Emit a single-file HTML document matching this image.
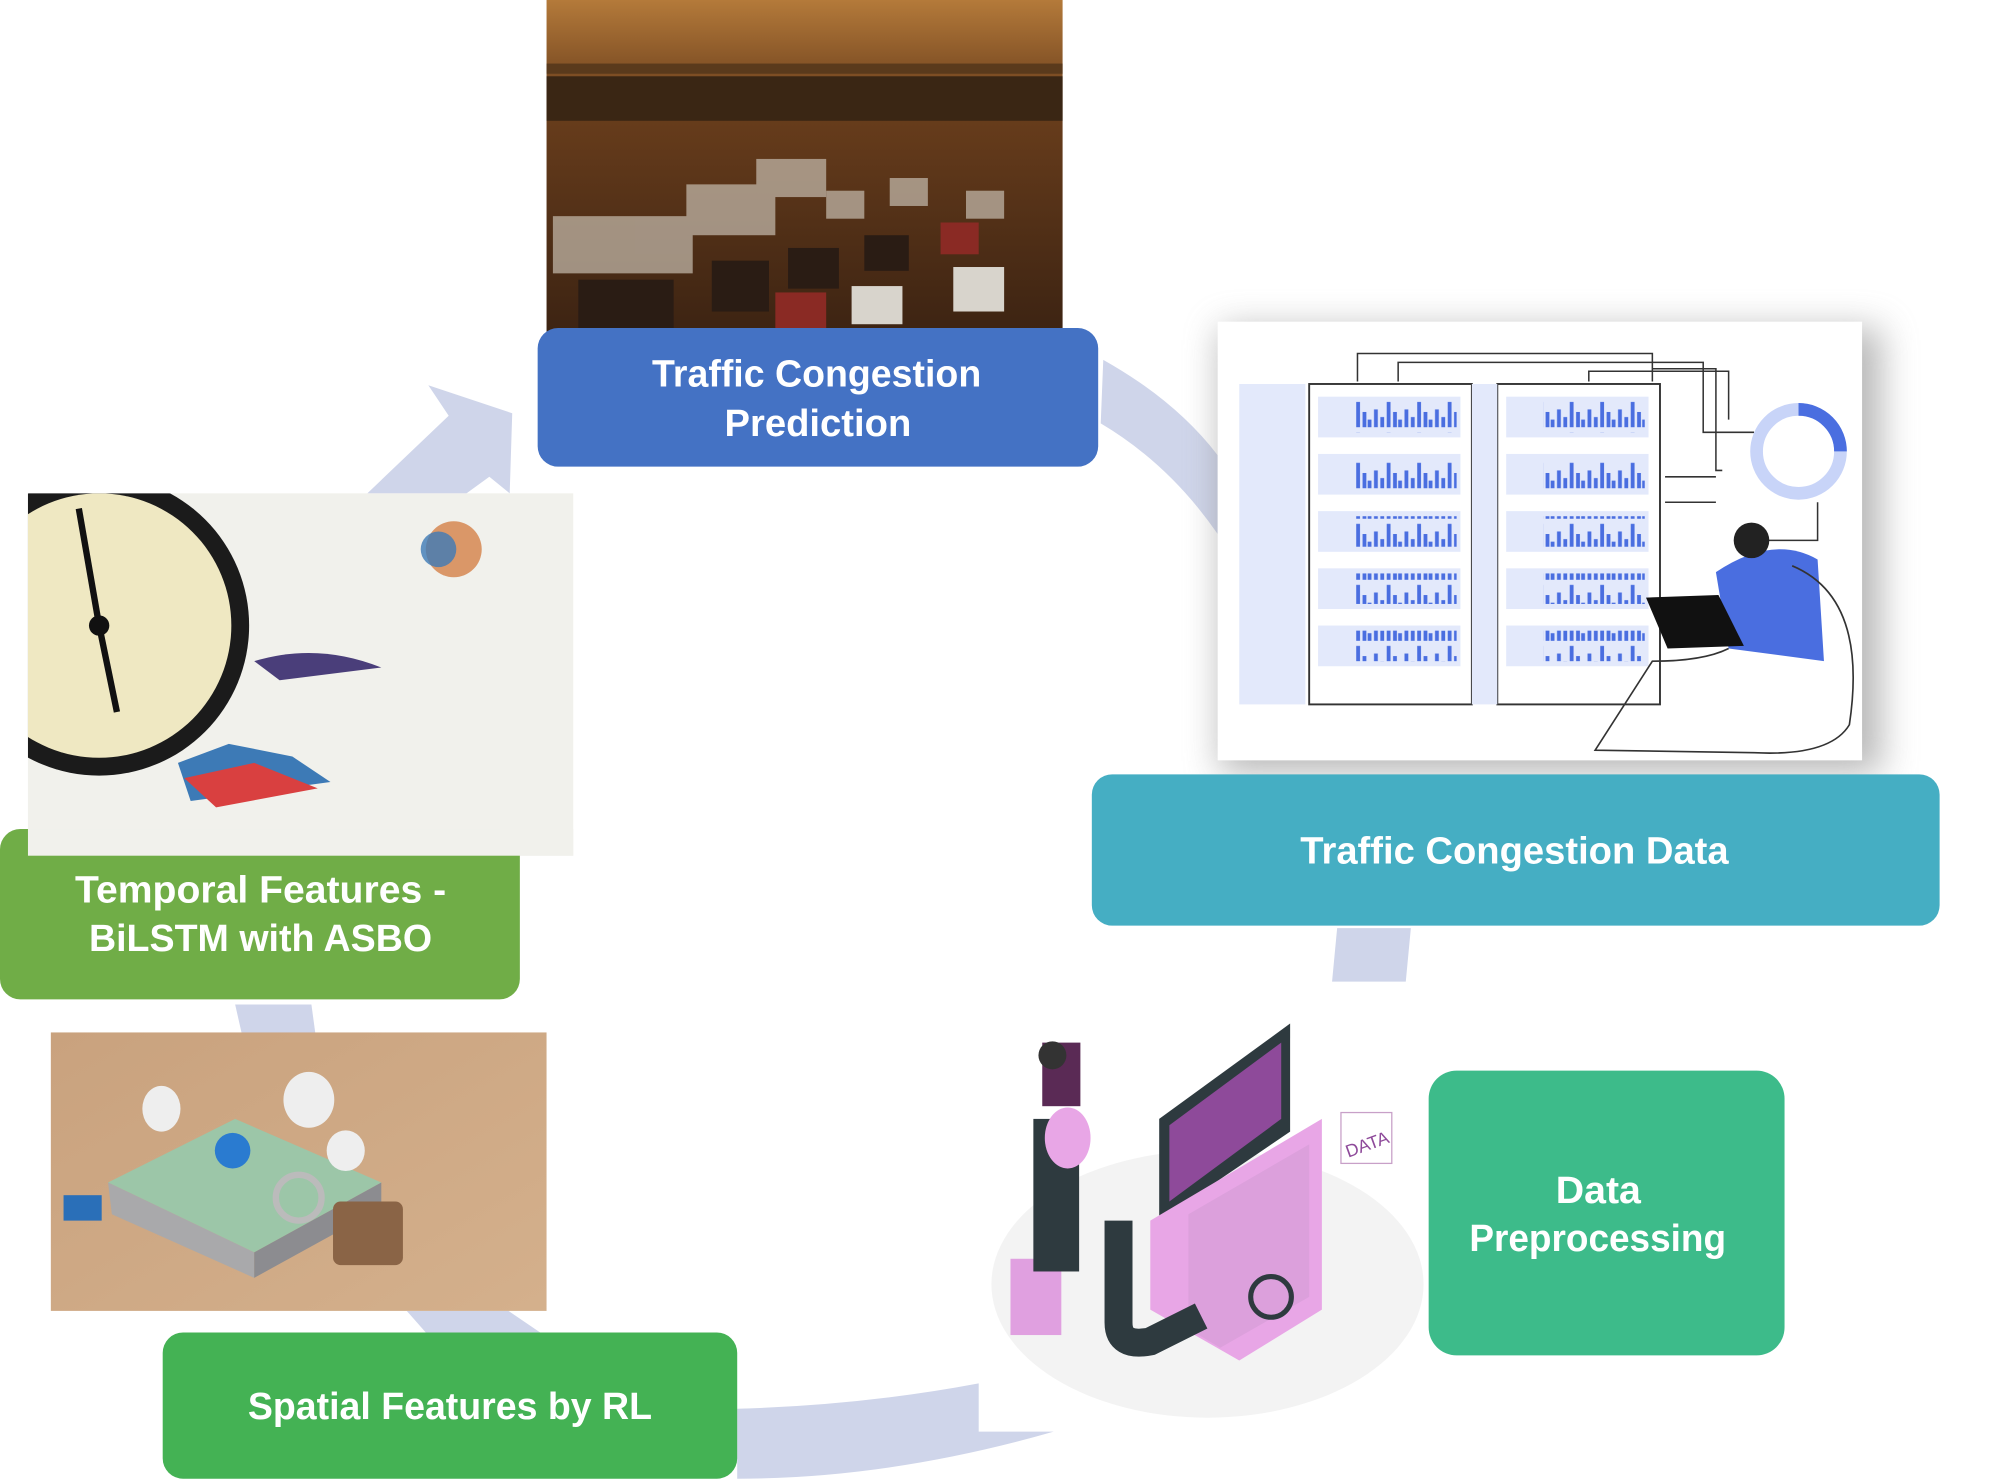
<!DOCTYPE html>
<html><head><meta charset="utf-8"><style>html,body{margin:0;padding:0;background:#fff;width:1993px;height:1480px;overflow:hidden}</style></head>
<body>
<svg width="1993" height="1480" viewBox="0 0 1568 1164" preserveAspectRatio="none" xmlns="http://www.w3.org/2000/svg">
<defs>
<linearGradient id="sky" x1="0" y1="0" x2="0" y2="1"><stop offset="0" stop-color="#b47a3a"/><stop offset="0.3" stop-color="#6a3e1c"/><stop offset="1" stop-color="#3a2212"/></linearGradient>
<linearGradient id="tan" x1="0" y1="0" x2="1" y2="1"><stop offset="0" stop-color="#c9a27e"/><stop offset="1" stop-color="#d4b08c"/></linearGradient>
<filter id="sh" x="-20%" y="-20%" width="140%" height="140%"><feGaussianBlur stdDeviation="14"/></filter>
<clipPath id="tc"><rect x="22" y="388" width="429" height="285"/></clipPath>
<pattern id="bars" x="0" y="0" width="24" height="24" patternUnits="userSpaceOnUse">
<rect x="1" y="10" width="3" height="14" fill="#4a6ee0"/><rect x="6" y="16" width="3" height="8" fill="#4a6ee0"/><rect x="11" y="4" width="3" height="20" fill="#4a6ee0"/><rect x="16" y="12" width="3" height="12" fill="#4a6ee0"/><rect x="20" y="18" width="3" height="6" fill="#4a6ee0"/>
</pattern>
</defs>
<g fill="#cfd5ea">
<polygon points="337,303 403,325 401,388 385,375 367,388 289,388 353,327"/>
<path d="M868,283 Q925,315 958,358 L958,420 Q920,365 866,333 Z"/>
<polygon points="1052,730 1110,730 1106,772 1048,772"/>
<polygon points="185,790 245,790 248,812 190,812"/>
<polygon points="320,1031 400,1031 425,1048 335,1048"/>
<path d="M580,1108 Q680,1105 770,1088 L770,1126 L829,1126 Q700,1163 580,1163 Z"/>
</g>
<!-- top photo -->
<rect x="430" y="0" width="406" height="270" fill="url(#sky)"/>
<rect x="430" y="60" width="406" height="35" fill="#3a2614"/>
<rect x="430" y="50" width="406" height="8" fill="#5a3a1c"/>
<g fill="#bfb4a6" opacity="0.75">
<rect x="435" y="170" width="110" height="45"/><rect x="540" y="145" width="70" height="40"/><rect x="595" y="125" width="55" height="30"/>
<rect x="700" y="140" width="30" height="22"/><rect x="650" y="150" width="30" height="22"/><rect x="760" y="150" width="30" height="22"/>
</g>
<g fill="#2a1c14">
<rect x="455" y="220" width="75" height="45"/><rect x="560" y="205" width="45" height="40"/><rect x="620" y="195" width="40" height="32"/><rect x="680" y="185" width="35" height="28"/>
</g>
<g fill="#8a2a24"><rect x="610" y="230" width="40" height="30"/><rect x="740" y="175" width="30" height="25"/></g>
<g fill="#d8d4cc"><rect x="750" y="210" width="40" height="35"/><rect x="670" y="225" width="40" height="30"/></g>
<!-- blue box -->
<rect x="423" y="258" width="441" height="109" rx="16" fill="#4472c4"/>
<!-- right image -->
<rect x="960" y="258" width="520" height="350" fill="#888" filter="url(#sh)" opacity="0.6"/>
<rect x="958" y="253" width="507" height="345" fill="#fff"/>
<rect x="975" y="302" width="52" height="252" fill="#e3e9fb"/>
<rect x="1030" y="302" width="128" height="252" fill="#fff" stroke="#333" stroke-width="1.5"/>
<rect x="1178" y="302" width="128" height="252" fill="#fff" stroke="#333" stroke-width="1.5"/>
<rect x="1158" y="302" width="20" height="252" fill="#e3e9fb"/>
<g fill="#e3e9fb">
<rect x="1037" y="312" width="112" height="32"/><rect x="1037" y="357" width="112" height="32"/><rect x="1037" y="402" width="112" height="32"/><rect x="1037" y="447" width="112" height="32"/><rect x="1037" y="492" width="112" height="32"/>
<rect x="1185" y="312" width="112" height="32"/><rect x="1185" y="357" width="112" height="32"/><rect x="1185" y="402" width="112" height="32"/><rect x="1185" y="447" width="112" height="32"/><rect x="1185" y="492" width="112" height="32"/>
</g>
<g fill="url(#bars)">
<rect x="1066" y="316" width="80" height="24"/><rect x="1066" y="361" width="80" height="24"/><rect x="1066" y="406" width="80" height="24"/><rect x="1066" y="451" width="80" height="24"/><rect x="1066" y="496" width="80" height="24"/>
<rect x="1214" y="316" width="80" height="24"/><rect x="1214" y="361" width="80" height="24"/><rect x="1214" y="406" width="80" height="24"/><rect x="1214" y="451" width="80" height="24"/><rect x="1214" y="496" width="80" height="24"/>
</g>
<g fill="none" stroke="#333" stroke-width="1.2">
<path d="M1068,300 V278 H1300 V300 M1100,300 V285 H1340 V340 H1380 M1250,300 V292 H1360 V330 M1300,290 H1350 V370 H1355 M1310,375 H1350 M1310,395 H1350 M1430,395 V425 H1380"/>
</g>
<circle cx="1415" cy="355" r="33" fill="none" stroke="#c8d4f8" stroke-width="10"/>
<path d="M1415,322 A33,33 0 0 1 1448,355" fill="none" stroke="#4a6ee0" stroke-width="10"/>
<path d="M1350,450 Q1395,420 1430,440 L1435,520 L1360,510 Z" fill="#4a6ee0"/>
<circle cx="1378" cy="425" r="14" fill="#222"/>
<polygon points="1295,470 1352,468 1372,508 1312,510" fill="#111"/>
<path d="M1410,445 Q1470,470 1455,570 Q1440,595 1380,592 L1255,590 L1300,520 Q1340,520 1360,510" fill="none" stroke="#333" stroke-width="1.3"/>
<!-- teal box -->
<rect x="859" y="609" width="667" height="119" rx="16" fill="#45aec3"/>
<!-- temporal image -->
<rect x="22" y="388" width="429" height="285" fill="#f1f1ec"/>
<g clip-path="url(#tc)">
<circle cx="78" cy="492" r="118" fill="#1b1b1b"/>
<circle cx="78" cy="492" r="104" fill="#efe8c2"/>
<line x1="78" y1="492" x2="62" y2="400" stroke="#111" stroke-width="5"/>
<line x1="78" y1="492" x2="92" y2="560" stroke="#111" stroke-width="5"/>
<circle cx="78" cy="492" r="8" fill="#111"/>
<path d="M140,600 L180,585 L230,595 L260,615 L150,630 Z" fill="#3d7ab6"/>
<path d="M145,612 L200,600 L250,620 L170,635 Z" fill="#d94040"/>
<path d="M200,520 Q250,505 300,525 L220,535 Z" fill="#4a3e7a"/>
<circle cx="357" cy="432" r="22" fill="#d07030" opacity="0.7"/>
<circle cx="345" cy="432" r="14" fill="#3d7ab6" opacity="0.8"/>
</g>
<!-- temporal box -->
<rect x="0" y="652" width="409" height="134" rx="16" fill="#70ad47"/>
<rect x="22" y="652" width="429" height="21" fill="#f1f1ec"/>
<!-- spatial image -->
<rect x="40" y="812" width="390" height="219" fill="url(#tan)"/>
<polygon points="85,930 185,880 300,930 200,985" fill="#9cc6a8"/>
<polygon points="85,930 200,985 200,1005 88,955" fill="#a9a9ab"/>
<polygon points="200,985 300,930 300,950 200,1005" fill="#8c8c90"/>
<circle cx="183" cy="905" r="14" fill="#2a7bd0"/>
<circle cx="235" cy="942" r="18" fill="none" stroke="#bbb" stroke-width="5"/>
<rect x="262" y="945" width="55" height="50" rx="6" fill="#8a6446"/>
<ellipse cx="127" cy="872" rx="15" ry="18" fill="#eee"/><ellipse cx="243" cy="865" rx="20" ry="22" fill="#eee"/><ellipse cx="272" cy="905" rx="15" ry="16" fill="#eee"/>
<rect x="50" y="940" width="30" height="20" fill="#2a6fb8"/>
<!-- spatial box -->
<rect x="128" y="1048" width="452" height="115" rx="16" fill="#44b254"/>
<!-- preprocessing -->
<ellipse cx="950" cy="1010" rx="170" ry="105" fill="#f3f3f3"/>
<polygon points="912,880 1015,805 1015,890 912,960" fill="#2e3a3f"/>
<polygon points="920,885 1008,820 1008,880 920,945" fill="#8e4a9a"/>
<polygon points="905,960 1040,880 1040,1030 975,1070 905,1030" fill="#e8a6e6"/>
<polygon points="935,955 1030,900 1030,1020 960,1060 935,1045" fill="#dca0dc"/>
<circle cx="1000" cy="1020" r="16" fill="none" stroke="#2e3a3f" stroke-width="4"/>
<path d="M880,960 L880,1040 Q880,1060 905,1055 L945,1035" fill="none" stroke="#2e3a3f" stroke-width="22"/>
<rect x="795" y="990" width="40" height="60" fill="#e0a0e0"/>
<rect x="820" y="820" width="30" height="50" fill="#5a2a55"/>
<circle cx="828" cy="830" r="11" fill="#333"/>
<rect x="813" y="880" width="36" height="120" fill="#2e3a3f"/>
<ellipse cx="840" cy="895" rx="18" ry="24" fill="#e8a6e6"/>
<rect x="1055" y="875" width="40" height="40" fill="#fff" stroke="#c8a0c8"/>
<text x="1058" y="905" font-family="Liberation Sans" font-size="14" fill="#8e4a9a" transform="rotate(-20 1075 900)">DATA</text>
<!-- preprocessing box -->
<rect x="1124" y="842" width="280" height="224" rx="22" fill="#3dbb8a"/>
<g font-family="'Liberation Sans Narrow','Liberation Sans',sans-serif" font-weight="bold" font-size="30" fill="#fff">
<text x="513" y="304" textLength="259" lengthAdjust="spacingAndGlyphs">Traffic Congestion</text>
<text x="570" y="343" textLength="147" lengthAdjust="spacingAndGlyphs">Prediction</text>
<text x="1023" y="679" textLength="337" lengthAdjust="spacingAndGlyphs">Traffic Congestion Data</text>
<text x="1224" y="946" textLength="67" lengthAdjust="spacingAndGlyphs">Data</text>
<text x="1156" y="984" textLength="202" lengthAdjust="spacingAndGlyphs">Preprocessing</text>
<text x="59" y="710" textLength="292" lengthAdjust="spacingAndGlyphs">Temporal Features -</text>
<text x="70" y="748" textLength="270" lengthAdjust="spacingAndGlyphs">BiLSTM with ASBO</text>
<text x="195" y="1116" textLength="318" lengthAdjust="spacingAndGlyphs">Spatial Features by RL</text>
</g>
</svg>
</body></html>
